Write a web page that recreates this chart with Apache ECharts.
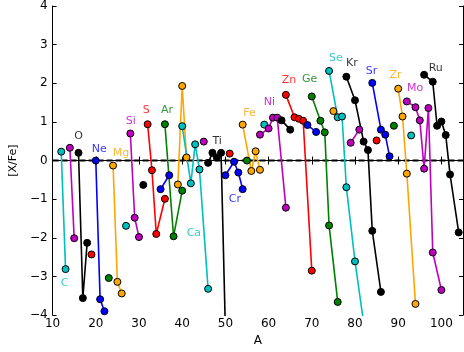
<!DOCTYPE html>
<html>
<head>
<meta charset="utf-8">
<script src="https://cdn.jsdelivr.net/npm/echarts@6/dist/echarts.min.js"></script>
<style>
  html, body { margin: 0; padding: 0; background: #fff; }
  #main { width: 464px; height: 352px; }
</style>
</head>
<body>
<div id="main"></div>
<script>
// element names, in plot order (Tc is not plotted)
var elements = ['C', 'N', 'O', 'F', 'Ne', 'Na', 'Mg', 'Al', 'Si', 'P', 'S', 'Cl', 'Ar', 'K', 'Ca', 'Sc', 'Ti', 'V', 'Cr', 'Mn',
    'Fe', 'Co', 'Ni', 'Cu', 'Zn', 'Ga', 'Ge', 'As', 'Se', 'Br', 'Kr', 'Rb', 'Sr', 'Y', 'Zr', 'Nb', 'Mo', 'Ru'];

// mass numbers of the isotopes of each element
var massNumbers = [
    [12, 13], [14, 15], [16, 17, 18], [19], [20, 21, 22], [23], [24, 25, 26], [27], [28, 29, 30], [31],
    [32, 33, 34, 36], [35, 37], [36, 38, 40], [39, 40, 41], [40, 42, 43, 44, 46], [45], [46, 47, 48, 49, 50], [51],
    [50, 52, 53, 54], [55], [54, 56, 57, 58], [59], [58, 60, 61, 62, 64], [63, 65], [64, 66, 67, 68, 70], [69, 71],
    [70, 72, 73, 74, 76], [75], [74, 76, 77, 78, 80, 82], [79, 81], [78, 80, 82, 83, 84, 86], [85], [84, 86, 87, 88],
    [89], [90, 91, 92, 94], [93], [92, 94, 95, 96, 97, 98, 100], [96, 98, 99, 100, 101, 102, 104]
];

// [X/Fe] of each isotope
var xFe = [
    [0.23, -2.81], [0.33, -2.01], [0.2, -3.56, -2.13], [-2.43], [0.0, -3.59, -3.9], [-3.04], [-0.13, -3.14, -3.44],
    [-1.69], [0.7, -1.48, -1.98], [-0.63], [0.94, -0.25, -1.9, -0.99], [-0.74, -0.38], [0.94, -1.96, -0.78],
    [-0.62, 1.93, 0.08], [0.89, -0.59, 0.42, -0.23, -3.32], [0.49], [-0.06, 0.2, 0.08, 0.2, -4.4], [0.18],
    [-0.38, -0.03, -0.31, -0.74], [0.0], [0.93, -0.27, 0.24, -0.24], [0.93], [0.67, 0.83, 1.11, 1.11, -1.22],
    [1.04, 0.8], [1.7, 1.12, 1.08, 1.03, -2.85], [0.92, 0.74], [1.66, 1.03, 0.73, -1.68, -3.66], [1.28],
    [2.32, 1.12, 1.14, -0.69, -2.61, -4.2], [0.46, 0.8], [2.17, 1.56, 0.49, 0.27, -1.82, -3.4], [0.52],
    [2.01, 0.8, 0.67, 0.11], [0.9], [1.86, 1.14, -0.34, -3.71], [0.65], [1.53, 1.38, 1.04, -0.21, 1.36, -2.38, -3.35],
    [2.22, 2.04, 0.9, 1.01, 0.66, -0.36, -1.86]
];

// labelled elements and where their names sit (data coords)
var labelNames = ['C', 'O', 'Ne', 'Mg', 'Si', 'S', 'Ar', 'Ca', 'Ti', 'Cr', 'Fe', 'Ni', 'Zn', 'Ge', 'Se', 'Kr', 'Sr', 'Zr', 'Mo', 'Ru'];
var labelA = [12.8, 16.0, 20.8, 25.85, 28.1, 31.7, 36.5, 42.7, 48.1, 52.2, 55.6, 60.2, 64.7, 69.5, 75.6, 79.3, 83.8, 89.4, 93.9, 98.7];
var labelY = [-3.18, 0.62, 0.29, 0.2, 1.01, 1.31, 1.31, -1.88, 0.51, -0.99, 1.22, 1.5, 2.09, 2.11, 2.64, 2.51, 2.32, 2.21, 1.87, 2.39];

var yTicks = [-4, -3, -2, -1, 0, 1, 2, 3, 4];

var palette = ['#00bfbf', '#bf00bf', '#000000', '#ff0000', '#0000ff', '#008000', '#ffa500'];
var FONT = 'DejaVu Sans';

var chartDom = document.getElementById('main');
var myChart = echarts.init(chartDom);

var series = [];
for (var i = 0; i < elements.length; i++) {
    var pts = [];
    for (var j = 0; j < massNumbers[i].length; j++) {
        pts.push([massNumbers[i][j], xFe[i][j]]);
    }
    series.push({
        name: elements[i],
        type: 'line',
        data: pts,
        symbol: 'circle',
        symbolSize: 7,
        clip: true,
        animation: false,
        lineStyle: { color: palette[i % 7], width: 1.6 },
        itemStyle: { color: palette[i % 7], borderColor: '#000', borderWidth: 1 },
        z: 3
    });
}

// dashed zero line
series.push({
    type: 'line',
    data: [[10, 0], [105, 0]],
    symbol: 'none',
    animation: false,
    lineStyle: { color: '#000', width: 2, type: [6, 3] },
    z: 2
});

// element names
var labelData = [];
for (var k = 0; k < labelNames.length; k++) {
    var c = palette[elements.indexOf(labelNames[k]) % 7];
    labelData.push({
        value: [labelA[k], labelY[k]],
        name: labelNames[k],
        label: { color: c }
    });
}
series.push({
    type: 'scatter',
    data: labelData,
    symbolSize: 0,
    animation: false,
    silent: true,
    label: {
        show: true,
        position: 'inside',
        formatter: function (p) { return p.name; },
        fontFamily: FONT,
        fontSize: 11
    },
    z: 5
});

var tickStyle = { inside: true, length: 4, lineStyle: { color: '#000', width: 1 } };

var option = {
    backgroundColor: '#fff',
    grid: { left: 39, right: 1, top: 5, bottom: 31 },
    xAxis: [{
        type: 'value',
        min: 10,
        max: 105,
        interval: 10,
        name: 'A',
        nameLocation: 'middle',
        nameGap: 19,
        nameTextStyle: { fontFamily: FONT, fontSize: 12, color: '#000' },
        axisLine: { lineStyle: { color: '#000', width: 1 } },
        axisTick: tickStyle,
        axisLabel: { fontFamily: FONT, fontSize: 12, color: '#000', margin: 3 },
        splitLine: { show: false }
    }, {
        type: 'value',
        position: 'top',
        min: 10,
        max: 105,
        interval: 10,
        axisLine: { lineStyle: { color: '#000', width: 1 } },
        axisTick: tickStyle,
        axisLabel: { show: false },
        splitLine: { show: false }
    }],
    yAxis: [{
        type: 'value',
        min: yTicks[0],
        max: yTicks[yTicks.length - 1],
        interval: 1,
        name: '[X/Fe]',
        nameLocation: 'middle',
        nameGap: 31,
        nameTextStyle: { fontFamily: FONT, fontSize: 11, color: '#000' },
        axisLine: { show: true, lineStyle: { color: '#000', width: 1 } },
        axisTick: tickStyle,
        axisLabel: {
            fontFamily: FONT, fontSize: 12, color: '#000', margin: 5,
            formatter: function (v) { return String(v).replace('-', '\u2212'); }
        },
        splitLine: { show: false }
    }, {
        type: 'value',
        position: 'right',
        min: yTicks[0],
        max: yTicks[yTicks.length - 1],
        interval: 1,
        axisLine: { show: true, lineStyle: { color: '#000', width: 1 } },
        axisTick: tickStyle,
        axisLabel: { show: false },
        splitLine: { show: false }
    }],
    series: series
};

option && myChart.setOption(option);
</script>
</body>
</html>
